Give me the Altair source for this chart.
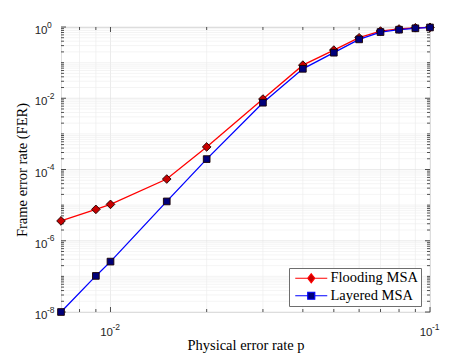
import altair as alt
import pandas as pd

# ---------------- data ----------------
p_values = [0.007, 0.009, 0.01, 0.015, 0.02, 0.03, 0.04, 0.05, 0.06, 0.07, 0.08, 0.09, 0.1]
fer_flooding = [3.6e-6, 7.6e-6, 1.05e-5, 5.4e-5, 4.3e-4, 9.5e-3, 8.5e-2, 0.225, 0.50, 0.77, 0.88, 0.95, 0.98]
fer_layered = [1.0e-8, 1.03e-7, 2.6e-7, 1.27e-5, 1.96e-4, 7.5e-3, 6.7e-2, 0.19, 0.45, 0.72, 0.84, 0.92, 0.97]
series_names = ["Flooding MSA", "Layered MSA"]

x_major = [0.01, 0.1]
x_major_exps = ["-2", "-1"]
x_minor = [0.008, 0.009, 0.02, 0.03, 0.04, 0.05, 0.06, 0.07, 0.08, 0.09]
y_major = [1e-8, 1e-6, 1e-4, 1e-2, 1.0]
y_major_exps = ["-8", "-6", "-4", "-2", "0"]
y_minor = [k * 10.0 ** e for e in range(-8, 0) for k in range(1, 10) if not (k == 1 and e % 2 == 0)]

x_domain = [0.007, 0.1]
y_domain = [1e-8, 1.0]

W, H = 369, 285
AX = "#262626"
SANS = "Liberation Sans"
SERIF = "Liberation Serif"
BASE_FS = 11.5
EXP_FS = 8.5

df = pd.DataFrame({
    "p": p_values * 2,
    "fer": fer_flooding + fer_layered,
    "series": [series_names[0]] * len(p_values) + [series_names[1]] * len(p_values),
})

xs = alt.Scale(type="log", domain=x_domain, nice=False)
ys = alt.Scale(type="log", domain=y_domain, nice=False)

x_axis = alt.Axis(values=x_major, labelExpr="'10'", grid=False, ticks=False, domain=False,
                  labelFont=SANS, labelFontSize=BASE_FS, labelColor=AX, labelPadding=23,
                  labelAlign="right", labelBaseline="alphabetic", labelOffset=2, labelFlush=False,
                  labelOverlap=False,
                  title="Physical error rate p", titleFont=SERIF, titleFontSize=14.5,
                  titleFontWeight="normal", titleColor="black",
                  titleY=37.5, titleBaseline="alphabetic")
y_axis = alt.Axis(values=y_major, labelExpr="'10'", grid=False, ticks=False, domain=False,
                  labelFont=SANS, labelFontSize=BASE_FS, labelColor=AX, labelPadding=14,
                  labelAlign="right", labelBaseline="alphabetic", labelOffset=6.5, labelFlush=False,
                  labelOverlap=False,
                  title="Frame error rate (FER)", titleFont=SERIF, titleFontSize=14.5,
                  titleFontWeight="normal", titleColor="black", titlePadding=5)

base = alt.Chart(df)

# grid
xg_minor = alt.Chart(pd.DataFrame({"v": x_minor})).mark_rule(color="#e9e9e9", strokeWidth=0.6).encode(
    x=alt.X("v:Q", scale=xs, axis=x_axis))
xg_major = alt.Chart(pd.DataFrame({"v": x_major})).mark_rule(color="#dedede", strokeWidth=0.6).encode(
    x=alt.X("v:Q", scale=xs))
yg_minor = alt.Chart(pd.DataFrame({"v": y_minor})).mark_rule(color="#ececec", strokeWidth=0.6).encode(
    y=alt.Y("v:Q", scale=ys, axis=y_axis))
yg_major = alt.Chart(pd.DataFrame({"v": y_major})).mark_rule(color="#dedede", strokeWidth=0.6).encode(
    y=alt.Y("v:Q", scale=ys))

# exponent labels (superscripts of the tick labels)
x_exp = alt.Chart(pd.DataFrame({"v": x_major, "e": x_major_exps})).mark_text(
    font=SANS, fontSize=EXP_FS, color=AX, align="left", baseline="alphabetic", dx=2).encode(
    x=alt.X("v:Q", scale=xs), y=alt.value(H + 18), text="e:N")
y_exp = alt.Chart(pd.DataFrame({"v": y_major, "e": y_major_exps})).mark_text(
    font=SANS, fontSize=EXP_FS, color=AX, align="left", baseline="alphabetic", dy=0.5).encode(
    y=alt.Y("v:Q", scale=ys), x=alt.value(-14), text="e:N")

# inward ticks
def xticks(vals, ln):
    d = alt.Chart(pd.DataFrame({"v": vals}))
    b = d.mark_rule(color=AX, strokeWidth=0.8).encode(x=alt.X("v:Q", scale=xs), y=alt.value(H), y2=alt.value(H - ln))
    t = d.mark_rule(color=AX, strokeWidth=0.8).encode(x=alt.X("v:Q", scale=xs), y=alt.value(0), y2=alt.value(ln))
    return b + t

def yticks(vals, ln):
    d = alt.Chart(pd.DataFrame({"v": vals}))
    l = d.mark_rule(color=AX, strokeWidth=0.8).encode(y=alt.Y("v:Q", scale=ys), x=alt.value(0), x2=alt.value(ln))
    r = d.mark_rule(color=AX, strokeWidth=0.8).encode(y=alt.Y("v:Q", scale=ys), x=alt.value(W), x2=alt.value(W - ln))
    return l + r

ticks = xticks(x_major, 5) + xticks(x_minor, 3) + yticks(y_major, 5) + yticks(y_minor, 3)

line_colors = ["#ff0000", "#0000ff"]
marker_fills = ["#c80000", "#00007a"]
marker_shapes = ["diamond", "square"]
marker_sizes = [75, 45]

layers = []
for i, name in enumerate(series_names):
    sub = base.transform_filter(alt.datum.series == name)
    layers.append(sub.mark_line(color=line_colors[i], strokeWidth=1.3).encode(
        x=alt.X("p:Q", scale=xs), y=alt.Y("fer:Q", scale=ys)))
    layers.append(sub.mark_point(filled=True, shape=marker_shapes[i], size=marker_sizes[i],
                                 fill=marker_fills[i], stroke="#1a0000", strokeWidth=0.9, opacity=1).encode(
        x=alt.X("p:Q", scale=xs), y=alt.Y("fer:Q", scale=ys)))

# legend-only layer (no rows drawn)
leg_paths = [
    "M-3.2,0L-0.7,0M0.7,0L3.2,0M0,-0.9L0.7,0L0,0.9L-0.7,0Z",
    "M-3.2,0L-0.7,0M0.7,0L3.2,0M-0.7,-0.7L0.7,-0.7L0.7,0.7L-0.7,0.7Z",
]
legend = alt.Legend(title=None, orient="none", legendX=228, legendY=241,
                    fillColor="white", strokeColor="#6e6e6e", padding=3,
                    labelFont=SERIF, labelFontSize=14.5, labelColor="black",
                    symbolSize=100, symbolStrokeWidth=1.2, symbolOffset=12, labelOffset=12,
                    rowPadding=1.5, symbolOpacity=1)
leg_layer = base.transform_filter("datum.p < 0").mark_point(filled=True).encode(
    x=alt.X("p:Q", scale=xs), y=alt.Y("fer:Q", scale=ys),
    stroke=alt.Stroke("series:N", scale=alt.Scale(domain=series_names, range=line_colors), legend=legend),
    fill=alt.Fill("series:N", scale=alt.Scale(domain=series_names, range=marker_fills), legend=legend),
    shape=alt.Shape("series:N", scale=alt.Scale(domain=series_names, range=leg_paths), legend=legend),
)

chart = alt.layer(xg_minor, xg_major, yg_minor, yg_major, ticks, x_exp, y_exp, *layers, leg_layer).properties(
    width=W, height=H,
    autosize=alt.AutoSizeParams(type="none"),
    padding={"left": 61, "top": 27, "right": 44, "bottom": 43},
).configure_view(stroke=AX, strokeWidth=1).configure_legend(
    strokeWidth=0.8, cornerRadius=0, labelFont=SERIF, labelFontSize=14.5, labelColor="black"
).configure(background="white")

chart.save("out.html", embed_options={"renderer": "svg", "actions": False})
